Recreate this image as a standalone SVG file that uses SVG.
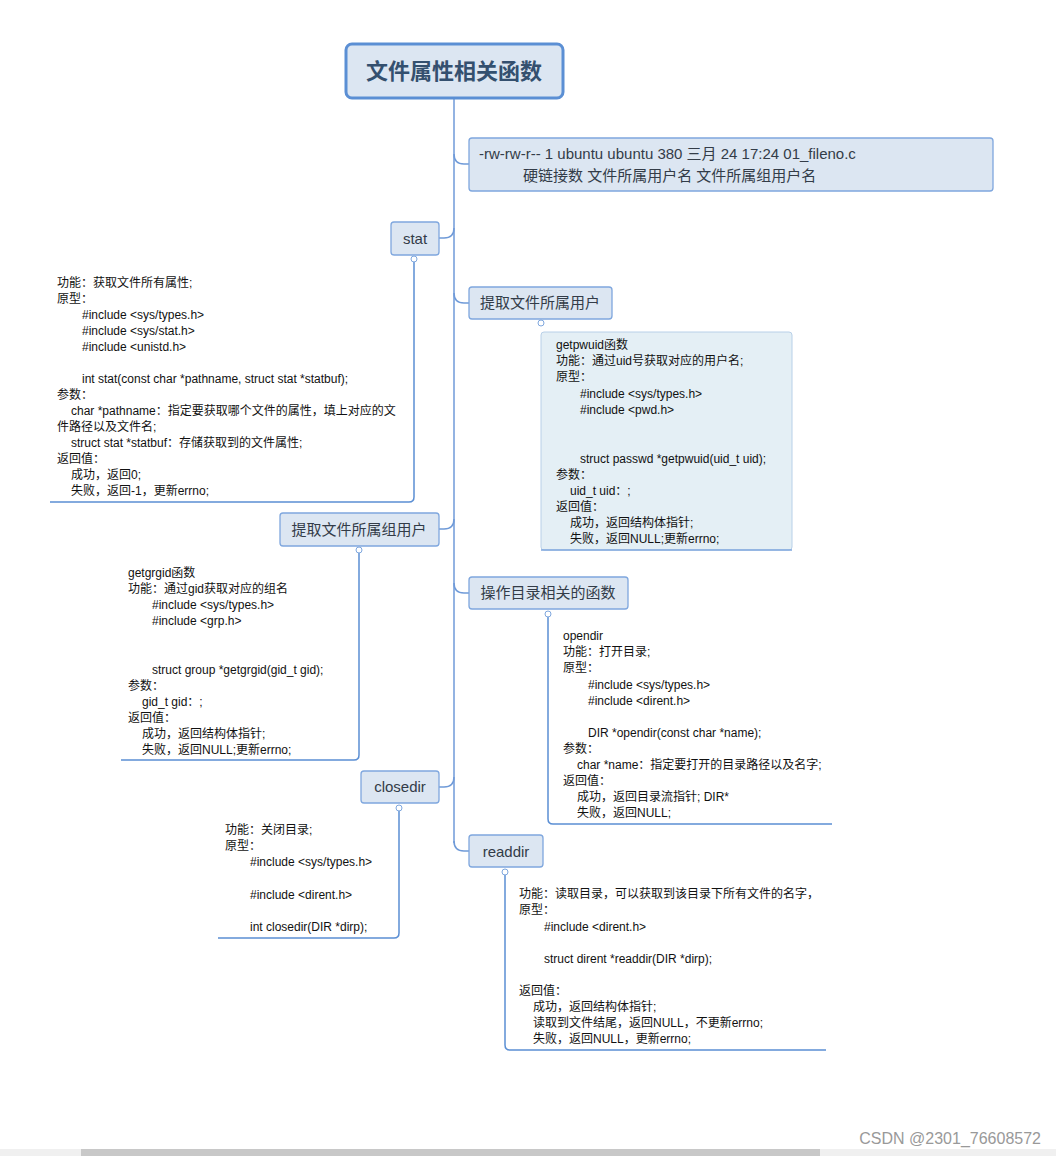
<svg xmlns="http://www.w3.org/2000/svg" width="1056" height="1156" viewBox="0 0 1056 1156">
<style>
.n{fill:#dce6f2;stroke:#7fa7de;stroke-width:1.3}
.t{font-family:"Liberation Sans","Noto Sans CJK SC",sans-serif;font-size:15px;fill:#333c48}
.s{font-family:"Liberation Sans","Noto Sans CJK SC",sans-serif;font-size:12px;fill:#111}
.c{fill:none;stroke:#6f9ad8;stroke-width:1.5}
.u{fill:none;stroke:#5b8fd4;stroke-width:1.5}
.o{fill:#fff;stroke:#7fa7de;stroke-width:1}
</style>
<rect width="1056" height="1156" fill="#fff"/>
<g id="connectors">
<path class="c" d="M454,99 V843"/>
<path class="c" d="M454,154 Q454,164 464,164 H469"/>
<path class="c" d="M454,228 Q454,238 444,238 H439"/>
<path class="c" d="M454,293 Q454,303 464,303 H469"/>
<path class="c" d="M454,519 Q454,529 444,529 H439"/>
<path class="c" d="M454,583 Q454,593 464,593 H469"/>
<path class="c" d="M454,777 Q454,787 444,787 H439"/>
<path class="c" d="M454,841 Q454,851 464,851 H469"/>
<path class="u" d="M414,259 V497 Q414,502 409,502 H50"/>
<path class="u" d="M359,550 V755 Q359,760 354,760 H121"/>
<path class="u" d="M548,614 V819 Q548,824 553,824 H832"/>
<path class="u" d="M399,808 V933 Q399,938 394,938 H218"/>
<path class="u" d="M505,872 V1045 Q505,1050 510,1050 H826"/>
<circle class="o" cx="414" cy="259" r="3"/>
<circle class="o" cx="359" cy="550" r="3"/>
<circle class="o" cx="541" cy="323" r="3"/>
<circle class="o" cx="548" cy="614" r="3"/>
<circle class="o" cx="399" cy="808" r="3"/>
<circle class="o" cx="505" cy="872" r="3"/>
</g>
<g id="root">
<rect x="346" y="44" width="217" height="54" rx="6" fill="#dce6f2" stroke="#5b8fd4" stroke-width="3"/>
<text x="454" y="79" text-anchor="middle" font-family="Liberation Sans,Noto Sans CJK SC,sans-serif" font-size="22" font-weight="bold" fill="#34506f">文件属性相关函数</text>
</g>
<g id="info">
<rect class="n" x="469" y="138" width="524" height="53" rx="3"/>
<text class="t" x="479" y="159">-rw-rw-r--   1      ubuntu          ubuntu    380 三月 24 17:24 01_fileno.c</text>
<text class="t" x="523" y="181">硬链接数  文件所属用户名 文件所属组用户名</text>
</g>
<g id="stat">
<rect class="n" x="391" y="222" width="48" height="33" rx="3"/>
<text class="t" x="415" y="244" text-anchor="middle">stat</text>
</g>
<g id="stat-text" class="s">
<text class="s" x="57" y="287">功能：获取文件所有属性;</text>
<text class="s" x="57" y="303">原型：</text>
<text class="s" x="82" y="319">#include &lt;sys/types.h&gt;</text>
<text class="s" x="82" y="335">#include &lt;sys/stat.h&gt;</text>
<text class="s" x="82" y="351">#include &lt;unistd.h&gt;</text>
<text class="s" x="82" y="383">int stat(const char *pathname, struct stat *statbuf);</text>
<text class="s" x="57" y="399">参数：</text>
<text class="s" x="71" y="415">char *pathname：指定要获取哪个文件的属性，填上对应的文</text>
<text class="s" x="57" y="431">件路径以及文件名;</text>
<text class="s" x="71" y="447">struct stat *statbuf：存储获取到的文件属性;</text>
<text class="s" x="57" y="463">返回值：</text>
<text class="s" x="71" y="479">成功，返回0;</text>
<text class="s" x="71" y="495">失败，返回-1，更新errno;</text>
</g>
<g id="user">
<rect class="n" x="469" y="287" width="143" height="32" rx="3"/>
<text class="t" x="540" y="308" text-anchor="middle">提取文件所属用户</text>
</g>
<g id="getpwuid">
<rect x="541" y="332" width="251" height="218" rx="3" fill="#e4eff5" stroke="#b8d0e8" stroke-width="1"/>
<line x1="541" y1="550" x2="792" y2="550" stroke="#7fa7de" stroke-width="1.5"/>
<text class="s" x="556" y="349">getpwuid函数</text>
<text class="s" x="556" y="365">功能：通过uid号获取对应的用户名;</text>
<text class="s" x="556" y="381">原型：</text>
<text class="s" x="580" y="398">#include &lt;sys/types.h&gt;</text>
<text class="s" x="580" y="414">#include &lt;pwd.h&gt;</text>
<text class="s" x="580" y="463">struct passwd *getpwuid(uid_t uid);</text>
<text class="s" x="556" y="479">参数：</text>
<text class="s" x="570" y="495">uid_t uid：;</text>
<text class="s" x="556" y="511">返回值：</text>
<text class="s" x="570" y="527">成功，返回结构体指针;</text>
<text class="s" x="570" y="543">失败，返回NULL;更新errno;</text>
</g>
<g id="group">
<rect class="n" x="280" y="513" width="159" height="33" rx="3"/>
<text class="t" x="359" y="535" text-anchor="middle">提取文件所属组用户</text>
</g>
<g id="getgrgid">
<text class="s" x="128" y="577">getgrgid函数</text>
<text class="s" x="128" y="593">功能：通过gid获取对应的组名</text>
<text class="s" x="152" y="609">#include &lt;sys/types.h&gt;</text>
<text class="s" x="152" y="625">#include &lt;grp.h&gt;</text>
<text class="s" x="152" y="674">struct group *getgrgid(gid_t gid);</text>
<text class="s" x="128" y="690">参数：</text>
<text class="s" x="142" y="706">gid_t gid：;</text>
<text class="s" x="128" y="722">返回值：</text>
<text class="s" x="142" y="738">成功，返回结构体指针;</text>
<text class="s" x="142" y="754">失败，返回NULL;更新errno;</text>
</g>
<g id="dir">
<rect class="n" x="469" y="577" width="159" height="32" rx="3"/>
<text class="t" x="548" y="598" text-anchor="middle">操作目录相关的函数</text>
</g>
<g id="opendir">
<text class="s" x="563" y="640">opendir</text>
<text class="s" x="563" y="656">功能：打开目录;</text>
<text class="s" x="563" y="672">原型：</text>
<text class="s" x="588" y="689">#include &lt;sys/types.h&gt;</text>
<text class="s" x="588" y="705">#include &lt;dirent.h&gt;</text>
<text class="s" x="588" y="737">DIR *opendir(const char *name);</text>
<text class="s" x="563" y="753">参数：</text>
<text class="s" x="577" y="769">char *name：指定要打开的目录路径以及名字;</text>
<text class="s" x="563" y="785">返回值：</text>
<text class="s" x="577" y="801">成功，返回目录流指针; DIR*</text>
<text class="s" x="577" y="817">失败，返回NULL;</text>
</g>
<g id="closedir">
<rect class="n" x="361" y="771" width="78" height="32" rx="3"/>
<text class="t" x="400" y="792" text-anchor="middle">closedir</text>
</g>
<g id="closedir-text">
<text class="s" x="225" y="834">功能：关闭目录;</text>
<text class="s" x="225" y="850">原型：</text>
<text class="s" x="250" y="866">#include &lt;sys/types.h&gt;</text>
<text class="s" x="250" y="899">#include &lt;dirent.h&gt;</text>
<text class="s" x="250" y="931">int closedir(DIR *dirp);</text>
</g>
<g id="readdir">
<rect class="n" x="469" y="835" width="74" height="32" rx="3"/>
<text class="t" x="506" y="857" text-anchor="middle">readdir</text>
</g>
<g id="readdir-text">
<text class="s" x="519" y="898">功能：读取目录，可以获取到该目录下所有文件的名字，</text>
<text class="s" x="519" y="914">原型：</text>
<text class="s" x="544" y="931">#include &lt;dirent.h&gt;</text>
<text class="s" x="544" y="963">struct dirent *readdir(DIR *dirp);</text>
<text class="s" x="519" y="995">返回值：</text>
<text class="s" x="533" y="1011">成功，返回结构体指针;</text>
<text class="s" x="533" y="1027">读取到文件结尾，返回NULL，不更新errno;</text>
<text class="s" x="533" y="1043">失败，返回NULL，更新errno;</text>
</g>
<rect x="0" y="1149" width="1056" height="7" fill="#f0f0f0"/>
<rect x="81" y="1149" width="739" height="7" fill="#c8c8c8"/>
<text x="1041" y="1144" text-anchor="end" font-family="Liberation Sans,Noto Sans CJK SC,sans-serif" font-size="16" fill="#999">CSDN @2301_76608572</text>
</svg>
